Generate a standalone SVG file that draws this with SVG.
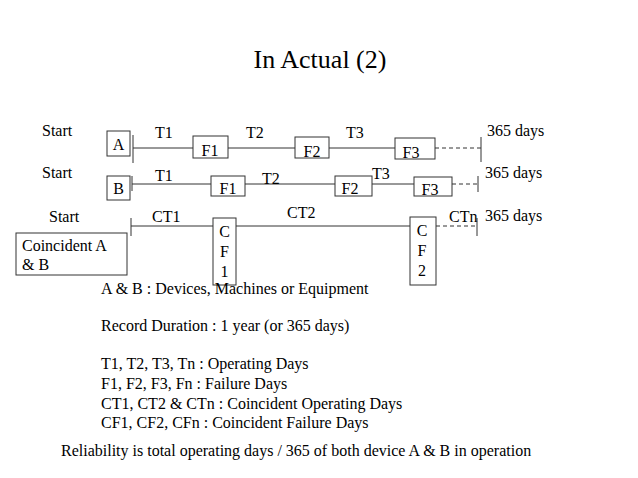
<svg xmlns="http://www.w3.org/2000/svg" width="638" height="478" viewBox="0 0 638 478">
<style>
text{font-family:"Liberation Serif","Times New Roman",serif;font-size:16px;fill:#000}
.b{fill:#fff;stroke:#333;stroke-width:1}
.l{stroke:#333;stroke-width:1;fill:none}
.d{stroke:#333;stroke-width:1;stroke-dasharray:4,3;fill:none}
</style>
<rect width="638" height="478" fill="#fff"/>
<text x="320" y="68" text-anchor="middle" style="font-size:26px">In Actual (2)</text>
<g id="connectors">
<path class="l" d="M133 135V163M133 148H193M228 148H295M329 148H395"/>
<path class="d" d="M435 148H481"/><path class="l" d="M481 137V162"/>
<path class="l" d="M132 176V191M132 184H211M245 184H335M372 184H414"/>
<path class="d" d="M452 184H478"/><path class="l" d="M478 176V192"/>
<path class="l" d="M131 218V236M131 226H213M236 226H410"/>
<path class="d" d="M436 226H477"/><path class="l" d="M477 218V236"/>
</g>
<g id="labels">
<text x="42" y="136">Start</text><text x="42" y="178">Start</text><text x="49" y="222">Start</text>
<text x="155" y="138">T1</text><text x="246" y="138">T2</text><text x="346" y="138">T3</text>
<text x="155" y="181">T1</text><text x="262" y="184">T2</text><text x="372" y="179">T3</text>
<text x="152" y="222">CT1</text><text x="287" y="218">CT2</text><text x="449" y="222">CTn</text>
<text x="487" y="136">365 days</text><text x="485" y="178">365 days</text><text x="485" y="221">365 days</text>
</g>
<g id="A"><rect class="b" x="107" y="131" width="23" height="25"/><text x="118.5" y="150" text-anchor="middle">A</text></g>
<g id="B"><rect class="b" x="107" y="176" width="23" height="24"/><text x="118.5" y="194" text-anchor="middle">B</text></g>
<g id="AF1"><rect class="b" x="193" y="136" width="35" height="22"/><text x="210" y="156" text-anchor="middle">F1</text></g>
<g id="AF2"><rect class="b" x="295" y="137" width="34" height="21"/><text x="312" y="157" text-anchor="middle">F2</text></g>
<g id="AF3"><rect class="b" x="395" y="138" width="40" height="21"/><text x="411" y="158" text-anchor="middle">F3</text></g>
<g id="BF1"><rect class="b" x="211" y="176" width="34" height="20"/><text x="228" y="194" text-anchor="middle">F1</text></g>
<g id="BF2"><rect class="b" x="335" y="176" width="37" height="20"/><text x="350" y="194" text-anchor="middle">F2</text></g>
<g id="BF3"><rect class="b" x="414" y="177" width="38" height="19"/><text x="430" y="195" text-anchor="middle">F3</text></g>
<g id="coincident"><rect class="b" x="16" y="233" width="111" height="42"/><text x="22" y="251">Coincident A</text><text x="22" y="270">&amp; B</text></g>
<g id="CF1"><rect class="b" x="213" y="218" width="23" height="67"/><text x="224.5" y="237" text-anchor="middle">C</text><text x="224.5" y="257" text-anchor="middle">F</text><text x="224.5" y="277" text-anchor="middle">1</text></g>
<g id="CF2"><rect class="b" x="410" y="217" width="26" height="68"/><text x="422" y="236" text-anchor="middle">C</text><text x="422" y="256" text-anchor="middle">F</text><text x="422" y="276" text-anchor="middle">2</text></g>
<g id="notes">
<text x="101" y="294">A &amp; B : Devices, Machines or Equipment</text>
<text x="101" y="331">Record Duration : 1 year (or 365 days)</text>
<text x="101" y="369">T1, T2, T3, Tn : Operating Days</text>
<text x="101" y="389">F1, F2, F3, Fn : Failure Days</text>
<text x="101" y="409">CT1, CT2 &amp; CTn : Coincident Operating Days</text>
<text x="101" y="428">CF1, CF2, CFn : Coincident Failure Days</text>
<text x="61" y="456">Reliability is total operating days / 365 of both device A &amp; B in operation</text>
</g>
</svg>
